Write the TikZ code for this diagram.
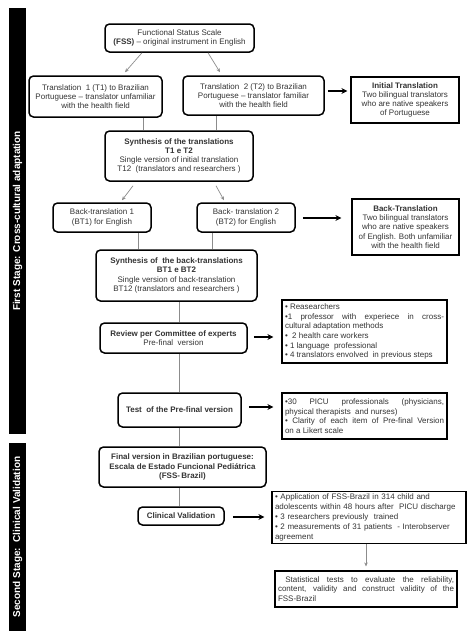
\documentclass[tikz,border=0pt]{standalone}
\usepackage{fontspec}
\setmainfont{Liberation Sans}
\usetikzlibrary{calc,arrows.meta}
\begin{document}
\begin{tikzpicture}[x=1pt,y=-1pt,
  txt/.style={font=\fontsize{8}{9.2}\selectfont, text=black!80},
  rbox/.style={txt, draw=black, line width=1.5pt, rounded corners=4.5pt, inner sep=0pt, align=center},
  sbox/.style={txt, draw=black, line width=1.2pt, inner sep=0pt, align=center},
  lbox/.style={txt, draw=black, line width=1.2pt, inner sep=3pt, align=justify},
  conn/.style={draw=black!45, line width=0.7pt},
  garrow/.style={conn, -{Stealth[length=4pt,width=3.5pt]}},
  barrow/.style={draw=black, line width=1.4pt, -{Stealth[length=6pt,width=6pt]}},
  bar/.style={fill=black},
  bartxt/.style={text=white, font=\fontsize{10}{12}\selectfont\bfseries, rotate=90}
]
\useasboundingbox (0,0) rectangle (474,640);
% stage bars
\fill[bar] (9,8) rectangle (26,434);
\fill[bar] (9,443) rectangle (26,631);
\node[bartxt] (s1) at (17.5,221) {First Stage: Cross-cultural adaptation};
\node[bartxt] (s2) at (17.5,537) {Second Stage:\ \ Clinical Validation};

% nodes
\node[rbox, minimum width=149pt, minimum height=28pt] (fss) at (179.5,38)
  {Functional Status Scale\\\textbf{(FSS)} – original instrument in English};
\node[rbox, minimum width=133pt, minimum height=41pt] (t1) at (95.5,96.5)
  {Translation\ \ 1 (T1) to Brazilian\\Portuguese – translator unfamiliar\\with the health field};
\node[rbox, minimum width=141pt, minimum height=39pt] (t2) at (253.5,95.5)
  {Translation\ \ 2 (T2) to Brazilian\\Portuguese – translator familiar\\with the health field};
\node[sbox, minimum width=108pt, minimum height=46pt] (init) at (405,100)
  {\textbf{Initial Translation}\\Two bilingual translators\\who are native speakers\\of Portuguese};
\node[rbox, minimum width=148pt, minimum height=50pt] (st) at (179,156)
  {\textbf{Synthesis of the translations}\\\textbf{T1 e T2}\\Single version of initial translation\\T12\ \ (translators and researchers )};
\node[rbox, minimum width=98pt, minimum height=29pt] (bt1) at (102,217.5)
  {Back-translation 1\\(BT1) for English};
\node[rbox, minimum width=98pt, minimum height=29pt] (bt2) at (246,217.5)
  {Back- translation 2\\(BT2) for English};
\node[sbox, minimum width=107pt, minimum height=56pt] (back) at (405.5,227)
  {\textbf{Back-Translation}\\Two bilingual translators\\who are native speakers\\of English. Both unfamiliar\\with the health field};
\node[rbox, minimum width=161pt, minimum height=51pt] (sbt) at (176.5,275.5)
  {\textbf{Synthesis of\ \ the back-translations}\\\textbf{BT1 e BT2}\\Single version of back-translation\\BT12 (translators and researchers )};
\node[rbox, minimum width=147pt, minimum height=30pt] (rev) at (173.5,338)
  {\textbf{Review per Committee of experts}\\Pre-final\ \ version};
\node[lbox, text width=159pt, font=\fontsize{8}{9.7}\selectfont, minimum height=63pt] (exp) at (364.5,331.5)
  {\textbullet\ Reasearchers\\
   \textbullet 1 professor with experiece in cross-\linebreak cultural adaptation methods\\
   \textbullet\ \ 2 health care workers\\
   \textbullet\ 1 language\ \ professional\\
   \textbullet\ 4 translators envolved\ \ in previous steps};
\node[rbox, minimum width=123pt, minimum height=34pt] (test) at (179.5,410)
  {\textbf{Test\ \ of the Pre-final version}};
\node[lbox, text width=159pt, font=\fontsize{8}{9.7}\selectfont, minimum height=46pt] (picu) at (364.5,416)
  {\textbullet 30 PICU professionals (physicians,\linebreak physical therapists\ \ and nurses)\\
   \textbullet\ Clarity of each item of Pre-final Version\linebreak on a Likert scale};
\node[rbox, minimum width=167pt, minimum height=40pt] (final) at (182.5,467)
  {\textbf{Final version in Brazilian portuguese:}\\\textbf{Escala de Estado Funcional Pediátrica}\\\textbf{(FSS-\,Brazil)}};
\node[rbox, minimum width=86pt, minimum height=18pt] (clin) at (181,516)
  {\textbf{Clinical Validation}};
\node[lbox, align=left, text width=188pt, font=\fontsize{8}{9.8}\selectfont, minimum height=51pt] (app) at (369,517.5)
  {\textbullet\ Application of FSS-Brazil in 314 child and\\
   adolescents within 48 hours after\ \ PICU discharge\\
   \textbullet\ 3 researchers previously\ \ trained\\
   \textbullet\ 2 measurements of 31 patients\ \ - Interobserver\\
   agreement};
\node[lbox, text width=176pt, font=\fontsize{8}{9.8}\selectfont, minimum height=36pt] (stat) at (366,589)
  {\ Statistical tests to evaluate the reliability,\linebreak content, validity and construct validity of the\linebreak FSS-Brazil};

% connectors
\draw[garrow] (fss.south -| 142,0) -- ($(t1.north -| 125,0)+(0,-3)$);
\draw[garrow] (fss.south -| 208,0) -- ($(t2.north -| 220,0)+(0,-3)$);
\draw[conn] (t1.south -| 143,0) -- (st.north -| 143,0);
\draw[conn] (t2.south -| 216,0) -- (st.north -| 216,0);
\draw[garrow] ($(st.south -| 133,0)+(0,4)$) -- ($(bt1.north -| 122,0)+(0,-2)$);
\draw[garrow] ($(st.south -| 216,0)+(0,4)$) -- ($(bt2.north -| 224,0)+(0,-2)$);
\draw[conn] (bt1.south -| 138,0) -- (sbt.north -| 138,0);
\draw[conn] (bt2.south -| 212,0) -- (sbt.north -| 212,0);
\draw[conn] (sbt.south -| 179,0) -- (rev.north -| 179,0);
\draw[conn] (rev.south -| 179,0) -- (test.north -| 179,0);
\draw[conn] (test.south -| 179,0) -- (final.north -| 179,0);
\draw[conn] (final.south -| 179,0) -- (clin.north -| 179,0);
\draw[garrow] (app.south -| 366,0) -- ($(stat.north -| 366,0)+(0,-4)$);

\draw[barrow] ($(t2.east |- 0,91)+(3,0)$) -- ($(init.west |- 0,91)+(-3,0)$);
\draw[barrow] ($(bt2.east |- 0,218)+(7,0)$) -- ($(back.west |- 0,218)+(-10,0)$);
\draw[barrow] ($(rev.east |- 0,337)+(6,0)$) -- ($(exp.west |- 0,337)+(-8,0)$);
\draw[barrow] ($(test.east |- 0,407)+(7,0)$) -- ($(picu.west |- 0,407)+(-8,0)$);
\draw[barrow] ($(clin.east |- 0,517)+(8,0)$) -- ($(app.west |- 0,517)+(-7,0)$);
\end{tikzpicture}
\end{document}
